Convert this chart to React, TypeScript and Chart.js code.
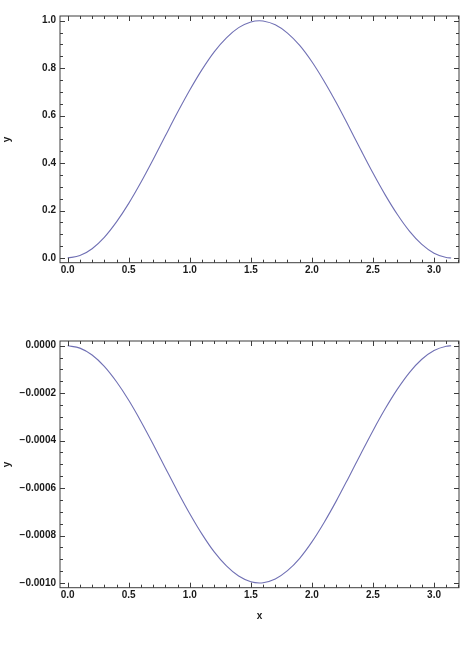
import React, { useEffect, useRef } from 'react';
import { Chart, registerables } from 'chart.js';

Chart.register(...registerables);

// Sample positions along x
const xValues = [
  0, 0.1, 0.2, 0.3, 0.4, 0.5, 0.6, 0.7, 0.8, 0.9, 1.0, 1.1, 1.2, 1.3, 1.4, 1.5, 1.57,
  1.6, 1.7, 1.8, 1.9, 2.0, 2.1, 2.2, 2.3, 2.4, 2.5, 2.6, 2.7, 2.8, 2.9, 3.0, 3.1, 3.14,
];

// Upper panel: curve rising from 0 to 1 and back
const upperY = [
  0, 0.010, 0.039, 0.087, 0.152, 0.230, 0.319, 0.415, 0.515, 0.614, 0.708, 0.794, 0.869, 0.928, 0.971, 0.995, 1.0,
  0.999, 0.983, 0.948, 0.896, 0.827, 0.745, 0.654, 0.556, 0.456, 0.358, 0.266, 0.183, 0.112, 0.057, 0.020, 0.002, 0,
];

// Lower panel: curve dipping from 0 to -0.001 and back
const lowerY = [
  0, -0.00001, -0.000039, -0.000087, -0.000152, -0.00023, -0.000319, -0.000415, -0.000515, -0.000614, -0.000708,
  -0.000794, -0.000869, -0.000928, -0.000971, -0.000995, -0.001, -0.000999, -0.000983, -0.000948, -0.000896,
  -0.000827, -0.000745, -0.000654, -0.000556, -0.000456, -0.000358, -0.000266, -0.000183, -0.000112, -0.000057,
  -0.00002, -0.000002, 0,
];

// Axis ticks
const xTicks = [0, 0.5, 1.0, 1.5, 2.0, 2.5, 3.0];
const upperYTicks = [0, 0.2, 0.4, 0.6, 0.8, 1.0];
const lowerYTicks = [0, -0.0002, -0.0004, -0.0006, -0.0008, -0.001];

const LINE_COLOR = '#7070b4';
const FRAME_COLOR = '#3c3c3c';
const TEXT_COLOR = '#1a1a1a';
const FONT = { family: "'Liberation Sans', Arial, sans-serif", size: 10, weight: 'bold' as const };

// Mathematica-style frame with inward major/minor ticks on all four sides
const framePlugin = {
  id: 'frameTicks',
  afterDraw(chart: any, _args: any, opts: any) {
    const { ctx, chartArea: a, scales } = chart;
    const xs = scales.x;
    const ys = scales.y;
    ctx.save();
    ctx.strokeStyle = FRAME_COLOR;
    ctx.lineWidth = 1;
    ctx.strokeRect(a.left, a.top, a.right - a.left, a.bottom - a.top);

    const tick = (v: number, len: number, axis: 'x' | 'y') => {
      ctx.beginPath();
      if (axis === 'x') {
        const p = Math.round(xs.getPixelForValue(v)) + 0.5;
        if (p < a.left || p > a.right) return;
        ctx.moveTo(p, a.bottom); ctx.lineTo(p, a.bottom - len);
        ctx.moveTo(p, a.top); ctx.lineTo(p, a.top + len);
      } else {
        const p = Math.round(ys.getPixelForValue(v)) + 0.5;
        if (p < a.top || p > a.bottom) return;
        ctx.moveTo(a.left, p); ctx.lineTo(a.left + len, p);
        ctx.moveTo(a.right, p); ctx.lineTo(a.right - len, p);
      }
      ctx.stroke();
    };

    for (let i = 0; i <= 32; i++) {
      const v = i * 0.1;
      tick(v, i % 5 === 0 ? 5 : 3, 'x');
    }
    const step = opts.yMinor;
    const n = Math.round((ys.max - ys.min) / step) + 2;
    const start = Math.ceil(ys.min / step);
    for (let i = start; i < start + n; i++) {
      const v = i * step;
      tick(v, Math.abs(i) % 4 === 0 ? 5 : 3, 'y');
    }
    ctx.restore();
  },
};

type PanelProps = {
  yData: number[];
  yTicks: number[];
  yMin: number;
  yMax: number;
  yMinor: number;
  decimals: number;
  padTop: number;
  xAxisHeight: number;
  showXTitle: boolean;
};

const Panel: React.FC<PanelProps> = ({ yData, yTicks, yMin, yMax, yMinor, decimals, padTop, xAxisHeight, showXTitle }) => {
  const canvasRef = useRef<HTMLCanvasElement>(null);

  useEffect(() => {
    if (!canvasRef.current) return;
    const chart = new Chart(canvasRef.current, {
      type: 'line',
      data: {
        datasets: [{
          data: xValues.map((x, i) => ({ x, y: yData[i] })),
          borderColor: LINE_COLOR,
          borderWidth: 1.1,
          pointRadius: 0,
          fill: false,
          cubicInterpolationMode: 'monotone',
        }],
      },
      options: {
        animation: false,
        responsive: true,
        maintainAspectRatio: false,
        layout: { padding: { top: padTop, right: 15, left: 0, bottom: 0 } },
        plugins: {
          legend: { display: false },
          tooltip: { enabled: false },
          frameTicks: { yMinor },
        } as any,
        scales: {
          x: {
            type: 'linear',
            min: -0.0628,
            max: 3.2044,
            grid: { display: false, drawTicks: false },
            border: { display: false },
            afterBuildTicks: (s: any) => { s.ticks = xTicks.map((v) => ({ value: v })); },
            afterFit: (s: any) => { s.height = xAxisHeight; },
            ticks: {
              color: TEXT_COLOR,
              font: FONT,
              padding: 2,
              maxRotation: 0,
              callback: (v: any) => Number(v).toFixed(1),
            },
            title: {
              display: showXTitle,
              text: 'x',
              color: TEXT_COLOR,
              font: FONT,
              padding: { top: 0, bottom: 26 },
            },
          },
          y: {
            type: 'linear',
            min: yMin,
            max: yMax,
            grid: { display: false, drawTicks: false },
            border: { display: false },
            afterBuildTicks: (s: any) => { s.ticks = yTicks.map((v) => ({ value: v })); },
            afterFit: (s: any) => { s.width = 60; },
            ticks: {
              color: TEXT_COLOR,
              font: FONT,
              padding: 4,
              callback: (v: any) => {
                const n = Number(v);
                const t = Math.abs(n).toFixed(decimals);
                return n < -1e-12 ? '\u2212' + t : t;
              },
            },
            title: {
              display: true,
              text: 'y',
              color: TEXT_COLOR,
              font: FONT,
              padding: { top: 1, bottom: 0 },
            },
          },
        },
      },
      plugins: [framePlugin],
    } as any);

    return () => {
      chart.destroy();
    };
  }, [yData, yTicks, yMin, yMax, yMinor, decimals, padTop, xAxisHeight, showXTitle]);

  return <canvas ref={canvasRef} />;
};

export default function App() {
  return (
    <div style={{ position: 'absolute', left: 0, top: 0, width: 474, height: 648, background: '#fff' }}>
      <div style={{ position: 'absolute', left: 0, top: 0, width: 474, height: 300 }}>
        <Panel
          yData={upperY}
          yTicks={upperYTicks}
          yMin={-0.02}
          yMax={1.02}
          yMinor={0.05}
          decimals={1}
          padTop={16}
          xAxisHeight={37.3}
          showXTitle={false}
        />
      </div>
      <div style={{ position: 'absolute', left: 0, top: 300, width: 474, height: 348 }}>
        <Panel
          yData={lowerY}
          yTicks={lowerYTicks}
          yMin={-0.00102}
          yMax={0.00002}
          yMinor={0.00005}
          decimals={4}
          padTop={41}
          xAxisHeight={60.3}
          showXTitle={true}
        />
      </div>
    </div>
  );
}
